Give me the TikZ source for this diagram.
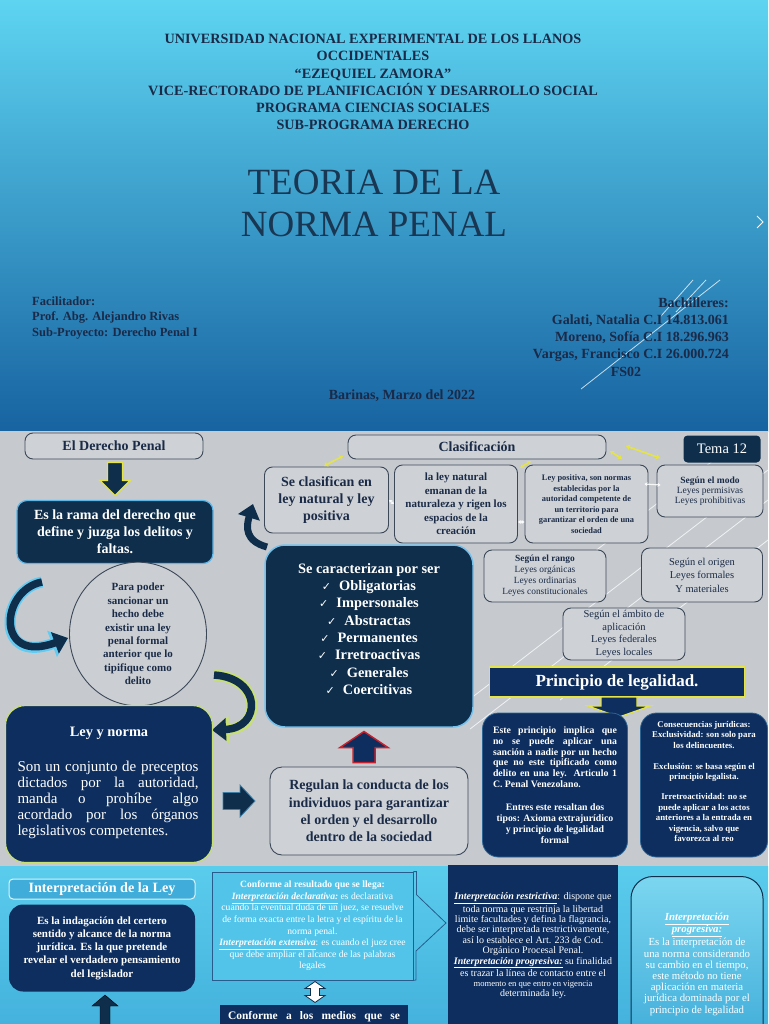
\documentclass[tikz,border=0pt]{standalone}
\usepackage{fontspec}
\setmainfont{Liberation Serif}
\newfontfamily\dejavu{DejaVu Sans}
\usetikzlibrary{arrows.meta,shapes.geometric,calc}
\definecolor{navyA}{HTML}{0E2E4C}
\definecolor{navyB}{HTML}{0D2E5E}
\definecolor{txtdark}{HTML}{1B2B47}
\definecolor{greyfill}{HTML}{CED2D6}
\definecolor{greyline}{HTML}{3C4858}
\definecolor{midbg}{HTML}{C6CACF}
\definecolor{bantop}{HTML}{5ED4F1}
\definecolor{banmid}{HTML}{3BA3D3}
\definecolor{banbot}{HTML}{1763A1}
\definecolor{cyantop}{HTML}{5ACCEC}
\definecolor{cyanbot}{HTML}{44B2DD}
\definecolor{titlec}{HTML}{193652}
\definecolor{headc}{HTML}{1A2A48}
\definecolor{glow}{HTML}{5EB6E6}
\definecolor{arrowcy}{HTML}{62CBF2}
\definecolor{ylw}{HTML}{E6E444}
\definecolor{lime}{HTML}{C8E070}
\definecolor{redA}{HTML}{C8202C}
\definecolor{boxcy}{HTML}{52C4EA}
\definecolor{boxcyline}{HTML}{285C8C}
\definecolor{interfill}{HTML}{40ACD9}
\newcommand{\fsz}[2]{\fontsize{#1}{#2}\selectfont}
\newcommand{\jline}[2]{\makebox[#1][s]{#2}}
\newcommand{\lline}[2]{\makebox[#1][l]{#2}}
\newcommand{\chk}{{\dejavu\fsz{11}{11}✓}\hspace{8pt}}
\newcommand{\ubi}[1]{\underline{\textbf{\textit{#1}}}}
\newcommand{\blockarr}[7]{%
  \begin{scope}[shift={#2},rotate=#3]
  \filldraw[#1] (-#4/2,-#5/2) -- (#4/2-#7,-#5/2) -- (#4/2-#7,-#6/2) -- (#4/2,0)
    -- (#4/2-#7,#6/2) -- (#4/2-#7,#5/2) -- (-#4/2,#5/2) -- cycle;
  \end{scope}}
\newcommand{\dblarr}[7]{%
  \begin{scope}[shift={#2},rotate=#3]
  \filldraw[#1] (-#4/2,0) -- (-#4/2+#7,#6/2) -- (-#4/2+#7,#5/2) -- (#4/2-#7,#5/2)
    -- (#4/2-#7,#6/2) -- (#4/2,0) -- (#4/2-#7,-#6/2) -- (#4/2-#7,-#5/2)
    -- (-#4/2+#7,-#5/2) -- (-#4/2+#7,-#6/2) -- cycle;
  \end{scope}}
\begin{document}
\begin{tikzpicture}[x=1pt,y=-1pt,
  greybox/.style={draw=greyline, fill=greyfill, line width=0.9pt, rounded corners=8pt, text=txtdark, align=center, inner sep=0pt},
  navybox/.style={fill=navyA, draw=glow, line width=1.2pt, rounded corners=10pt, text=white, align=center, inner sep=0pt},
  txt/.style={align=center, inner sep=0pt},
  deco/.style={white, opacity=0.75, line width=0.8pt},
  ylwarrow/.style={ylw, line width=1.6pt, {Stealth[length=4pt,width=5pt]}-{Stealth[length=4pt,width=5pt]}},
  whtarrow/.style={white, opacity=0.85, line width=1.2pt, {Stealth[length=3pt,width=4pt]}-{Stealth[length=3pt,width=4pt]}}
]
\useasboundingbox (0,0) rectangle (768,1024);
% backgrounds
\shade[top color=bantop, middle color=banmid, bottom color=banbot] (0,0) rectangle (768,431);
\fill[midbg] (0,431) rectangle (768,866);
\shade[top color=cyantop, bottom color=cyanbot] (0,866) rectangle (768,1024);
% decorative lines
\draw[deco] (720,280) -- (581,389);
\draw[deco] (693,280) -- (661,316);
\draw[deco] (706,280) -- (676,312);
\draw[deco] (768,470) -- (440,722);
\draw[deco] (768,500) -- (470,729);
\draw[deco] (768,540) -- (560,700);
\draw[deco] (740,440) -- (560,578);
\draw[white, line width=1pt] (757,216) -- (763,222) -- (757,228);

% banner texts
\node[txt, font=\bfseries\fsz{14.2}{17.2}, text=headc] (hdr) at (373,82) {UNIVERSIDAD NACIONAL EXPERIMENTAL DE LOS LLANOS\\OCCIDENTALES\\“EZEQUIEL ZAMORA"\\VICE-RECTORADO DE PLANIFICACIÓN Y DESARROLLO SOCIAL\\PROGRAMA CIENCIAS SOCIALES\\SUB-PROGRAMA DERECHO};
\node[txt, font=\fsz{37}{42}, text=titlec] (title) at (374,203) {TEORIA DE LA\\NORMA PENAL};
\node[txt, align=left, anchor=west, font=\bfseries\fsz{12.5}{15.2}, text=headc] (fac) at (32,318) {Facilitador:\\Prof. Abg. Alejandro Rivas\\Sub-Proyecto: Derecho Penal I};
\node[txt, align=right, anchor=east, font=\bfseries\fsz{14}{17}, text=headc] (bach) at (729,330) {Bachilleres:\\Galati, Natalia C.I 14.813.061\\Moreno, Sofía C.I 18.296.963\\Vargas, Francisco C.I 26.000.724};
\node[txt, font=\bfseries\fsz{14}{17}, text=headc] (fs) at (626,372) {FS02};
\node[txt, font=\bfseries\fsz{14}{17}, text=headc] (bar) at (402,396) {Barinas, Marzo del 2022};

% ---------- middle section ----------
\node[greybox, minimum width=178, minimum height=26, font=\bfseries\fsz{14}{16}] (dp) at (114,446) {El Derecho Penal};
\blockarr{fill=navyA, draw=ylw, line width=1.2pt}{(115,479)}{-90}{33}{15}{30}{15}
\node[navybox, minimum width=196, minimum height=63, font=\bfseries\fsz{14}{17}] (rama) at (115,532) {Es la rama del derecho que\\define y juzga los delitos y\\faltas.};
\node[ellipse, draw=greyline, fill=greyfill!60!midbg, line width=0.9pt, minimum width=137, minimum height=128, inner sep=0pt, align=center, text=txtdark, font=\bfseries\fsz{11}{13.4}] (circ) at (138,634) {Para poder\\sancionar un\\hecho debe\\existir una ley\\penal formal\\anterior que lo\\tipifique como\\delito};
% curved arrow left of circle
\coordinate (c1a) at (42,582);
\coordinate (c1b) at (68,638);
\draw[line width=11pt, arrowcy, -{Triangle[length=17pt,width=27pt]}] (c1a) .. controls (0,590) and (-5,665) .. (c1b);
\draw[line width=7.5pt, navyA, -{Triangle[length=14pt,width=22pt]}] (c1a) .. controls (0,590) and (-5,665) .. (c1b);
% curved arrow right of circle
\coordinate (c2a) at (214,675);
\coordinate (c2b) at (212,730);
\draw[line width=11pt, lime, -{Triangle[length=17pt,width=27pt]}] (c2a) .. controls (262,678) and (262,728) .. (c2b);
\draw[line width=7.5pt, navyA, -{Triangle[length=14pt,width=22pt]}] (c2a) .. controls (262,678) and (262,728) .. (c2b);

\node[fill=navyB, draw=lime, line width=1.2pt, rounded corners=20pt, minimum width=207, minimum height=157, inner sep=0pt] (ley) at (109,784) {};
\node[txt, text=white, font=\bfseries\fsz{14.4}{16}] (leyt) at (109,733) {Ley y norma};
\node[txt, text=white, font=\fsz{15}{16}] (leyp) at (108,800) {\jline{181pt}{Son un conjunto de preceptos}\\\jline{181pt}{dictados por la autoridad,}\\\jline{181pt}{manda o prohíbe algo}\\\jline{181pt}{acordado por los órganos}\\\lline{181pt}{legislativos competentes.}};
\blockarr{fill=navyA, draw=glow!60!navyA, line width=0.8pt}{(239,801)}{0}{32}{17}{32}{15}

\node[greybox, rounded corners=12pt, minimum width=198, minimum height=88, font=\bfseries\fsz{14}{17.3}] (reg) at (369,811) {Regulan la conducta de los\\individuos para garantizar\\el orden y el desarrollo\\dentro de la sociedad};
\blockarr{fill=navyB, draw=redA, line width=1.5pt}{(364,747)}{90}{31}{22}{48}{16}

\node[navybox, draw=glow!85!white, line width=1.5pt, rounded corners=20pt, minimum width=208, minimum height=182] (car) at (369,636) {};
\node[txt, text=white, font=\bfseries\fsz{14.4}{17.3}] (cartxt) at (369,629) {Se caracterizan por ser\\\chk Obligatorias\\\chk Impersonales\\\chk Abstractas\\\chk Permanentes\\\chk Irretroactivas\\\chk Generales\\\chk Coercitivas};
% curved arrow up to classification
\coordinate (c3a) at (267,547);
\coordinate (c3b) at (253,504);
\draw[line width=7pt, navyA, -{Triangle[length=14pt,width=22pt]}] (c3a) .. controls (245,541) and (246,527) .. (c3b);

\node[greybox, minimum width=258, minimum height=24, font=\bfseries\fsz{14}{16}] (clas) at (477,447) {Clasificación};
\node[fill=navyA, rounded corners=4pt, minimum width=77, minimum height=27, text=white, font=\fsz{14.5}{16}] (tema) at (722,449) {Tema 12};
\node[greybox, minimum width=124, minimum height=66, font=\bfseries\fsz{14}{17}] (clas1) at (326.5,500) {Se clasifican en\\ley natural y ley\\positiva};
\node[greybox, minimum width=123, minimum height=78, font=\bfseries\fsz{11}{13.5}] (nat) at (456,504) {la ley natural\\emanan de la\\naturaleza y rigen los\\espacios de la\\creación};
\node[greybox, minimum width=123, minimum height=78, font=\bfseries\fsz{8.4}{10.5}] (pos) at (586.5,504) {Ley positiva, son normas\\establecidas por la\\autoridad competente de\\un territorio para\\garantizar el orden de una\\sociedad};
\node[greybox, minimum width=106, minimum height=52, font=\fsz{9.5}{10.2}] (modo) at (710,491) {\textbf{Según el modo}\\Leyes permisivas\\Leyes prohibitivas};
\node[greybox, minimum width=122, minimum height=52, font=\fsz{9.4}{11}] (rango) at (545,576) {\textbf{Según el rango}\\Leyes orgánicas\\Leyes ordinarias\\Leyes constitucionales};
\node[greybox, minimum width=121, minimum height=54, font=\fsz{10.5}{13.5}] (orig) at (702,575) {Según el origen\\Leyes formales\\Y materiales};
\node[greybox, minimum width=122, minimum height=52, font=\fsz{10.5}{12.8}] (amb) at (624,634) {Según el ámbito de\\aplicación\\Leyes federales\\Leyes locales};
% small connectors
\coordinate (y1a) at (324,466); \coordinate (y1b) at (343,456);
\coordinate (y2a) at (520,468); \coordinate (y2b) at (531,461);
\coordinate (y3a) at (610,451); \coordinate (y3b) at (622,459);
\coordinate (y4a) at (626,446); \coordinate (y4b) at (660,458);
\draw[ylwarrow] (y1a) -- (y1b);
\draw[ylwarrow] (y2a) -- (y2b);
\draw[ylwarrow] (y3a) -- (y3b);
\draw[ylwarrow] (y4a) -- (y4b);
\draw[whtarrow] (clas1.east) -- (nat.west);
\draw[whtarrow] ($(nat.east)+(0,18)$) -- ($(pos.west)+(0,18)$);
\draw[whtarrow] ($(pos.east)+(-4,-20)$) -- ($(modo.west)+(4,-6)$);

% principle
\node[fill=navyB, draw=ylw, line width=1.5pt, minimum width=255, minimum height=30, text=white, font=\bfseries\fsz{17}{18}] (prin) at (617,682) {Principio de legalidad.};
\blockarr{fill=navyB, draw=ylw, line width=1.2pt}{(619,707)}{-90}{20}{36}{62}{11}
\node[fill=navyB, draw=glow!40!navyB, line width=0.8pt, rounded corners=16pt, minimum width=145, minimum height=144] (pri1) at (555,785) {};
\node[txt, text=white, font=\bfseries\fsz{9.8}{10.7}] (pri1t) at (555,785) {\jline{124pt}{Este principio implica que}\\\jline{124pt}{no se puede aplicar una}\\\jline{124pt}{sanción a nadie por un hecho}\\\jline{124pt}{que no este tipificado como}\\\jline{124pt}{delito en una ley. Articulo 1}\\\lline{124pt}{C. Penal Venezolano.}\\[13pt]Entres este resaltan dos\\tipos: Axioma extrajurídico\\y principio de legalidad\\formal};
\node[fill=navyB, draw=glow!40!navyB, line width=0.8pt, rounded corners=16pt, minimum width=127, minimum height=144] (pri2) at (704,785) {};
\node[txt, text=white, font=\bfseries\fsz{8.8}{10.5}] (pri2t) at (704,781.5) {Consecuencias jurídicas:\\Exclusividad: son solo para\\los delincuentes.\\[10.5pt]Exclusión: se basa según el\\principio legalista.\\[9.5pt]Irretroactividad: no se\\puede aplicar a los actos\\anteriores a la entrada en\\vigencia, salvo que\\favorezca al reo};

% ---------- bottom section ----------
\node[fill=interfill, draw=white!80!cyantop, line width=1pt, rounded corners=4pt, minimum width=186, minimum height=20, text=white, font=\bfseries\fsz{14.2}{16}] (intl) at (102,889) {Interpretación de la Ley};
\node[fill=navyB, rounded corners=14pt, minimum width=186, minimum height=87, text=white, align=center, font=\bfseries\fsz{11}{13.3}] (ind) at (102,948) {Es la indagación del certero\\sentido y alcance de la norma\\jurídica. Es la que pretende\\revelar el verdadero pensamiento\\del legislador};
\dblarr{fill=navyA}{(105,1020)}{90}{50}{10}{26}{11}

\node[fill=boxcy, draw=boxcyline, line width=0.8pt, minimum width=201, minimum height=108, text=white, align=center, inner sep=0pt, font=\fsz{9.6}{11.6}] (resu) at (312.5,926) {\textbf{Conforme al resultado que se llega:}\\\ubi{Interpretación declarativa:} es declarativa\\cuando la eventual duda de un juez, se resuelve\\de forma exacta entre la letra y el espíritu de la\\norma penal.\\\ubi{Interpretación extensiva}: es cuando el juez cree\\que debe ampliar el alcance de las palabras\\legales};
\draw[boxcyline, line width=0.8pt] (resu.north east) -- ++(3,0) -- ++(0,23) -- (446,923) -- (416,951) -- (416,980) -- (resu.south east);
\dblarr{fill=white, draw=navyA, line width=0.8pt}{(315,992)}{90}{21}{9}{20}{7}
\node[fill=navyB, minimum width=188, minimum height=40, anchor=north] (med) at (314,1005) {};
\node[txt, text=white, font=\bfseries\fsz{11.5}{13}] (medt) at (314,1017) {\jline{172pt}{Conforme a los medios que se}};

\node[fill=navyB, minimum width=170, minimum height=165, anchor=north] (rest) at (533,865) {};
\node[txt, text=white, font=\fsz{10}{10.4}] (restt) at (533,946) {\ubi{Interpretación restrictiva}: dispone que\\toda norma que restrinja la libertad\\limite facultades y defina la flagrancia,\\debe ser interpretada restrictivamente,\\así lo establece el Art. 233 de Cod.\\Orgánico Procesal Penal.\\\ubi{Interpretación progresiva:} su finalidad\\es trazar la línea de contacto entre el\\{\fsz{8.6}{10.4}momento en que entro en vigencia}\\determinada ley.};

\node[top color=cyantop!80!white, bottom color=interfill, draw=navyA, line width=1pt, rounded corners=22pt, minimum width=132, minimum height=170, anchor=north] (prog) at (697,876) {};
\node[txt, text=white, font=\fsz{10.8}{11.2}] (progt) at (697,964) {\ubi{Interpretación}\\\ubi{progresiva:}\\Es la interpretación de\\una norma considerando\\su cambio en el tiempo,\\este método no tiene\\aplicación en materia\\jurídica dominada por el\\principio de legalidad};
\end{tikzpicture}
\end{document}
